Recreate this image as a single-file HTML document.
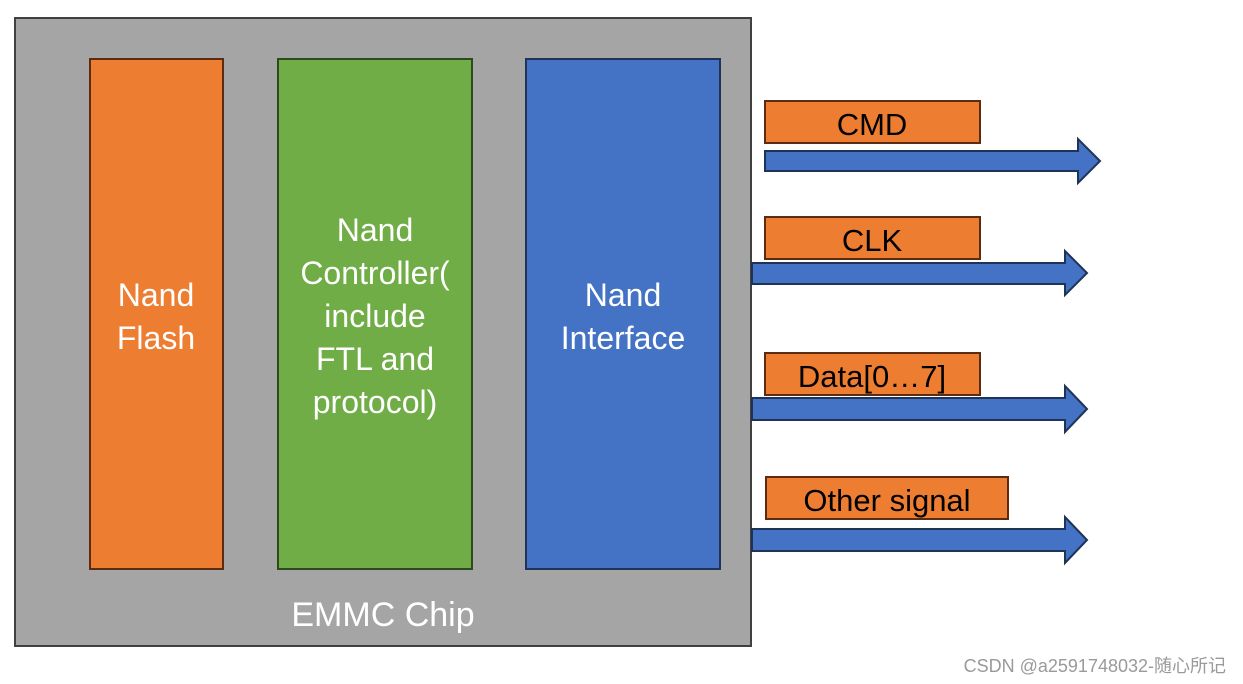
<!DOCTYPE html>
<html><head><meta charset="utf-8"><style>
html,body{margin:0;padding:0;background:#fff;width:1243px;height:684px;overflow:hidden}
svg{display:block}
.w{font-family:"Liberation Sans","Noto Sans CJK SC",sans-serif;font-size:32px;fill:#fff;text-anchor:middle}
.b{font-family:"Liberation Sans","Noto Sans CJK SC",sans-serif;font-size:31px;fill:#000;text-anchor:middle}
</style></head><body>
<svg width="1243" height="684" viewBox="0 0 1243 684">
<rect x="15" y="18" width="736" height="628" fill="#a5a5a5" stroke="#404040" stroke-width="2"/>
<rect x="90" y="59" width="133" height="510" fill="#ed7d31" stroke="#5b2c0f" stroke-width="2"/>
<rect x="278" y="59" width="194" height="510" fill="#70ad47" stroke="#2d4a1c" stroke-width="2"/>
<rect x="526" y="59" width="194" height="510" fill="#4472c4" stroke="#1f3357" stroke-width="2"/>
<text class="w" x="156" y="306">Nand</text>
<text class="w" x="156" y="349">Flash</text>
<text class="w" x="375" y="241">Nand</text>
<text class="w" x="375" y="284">Controller(</text>
<text class="w" x="375" y="327">include</text>
<text class="w" x="375" y="370">FTL and</text>
<text class="w" x="375" y="413">protocol)</text>
<text class="w" x="623" y="306">Nand</text>
<text class="w" x="623" y="349">Interface</text>
<text class="w" x="383" y="626" style="font-size:34px">EMMC Chip</text>

<g fill="#4472c4" stroke="#1f3357" stroke-width="2">
<polygon points="765,151 1078,151 1078,139 1100,161 1078,183 1078,171 765,171"/>
<polygon points="752,263 1065,263 1065,251 1087,273 1065,295 1065,284 752,284"/>
<polygon points="752,398 1065,398 1065,386 1087,409 1065,432 1065,420 752,420"/>
<polygon points="752,529 1065,529 1065,517 1087,540 1065,563 1065,551 752,551"/>
</g>
<g fill="#ed7d31" stroke="#5b2c0f" stroke-width="2">
<rect x="765" y="101" width="215" height="42"/>
<rect x="765" y="217" width="215" height="42"/>
<rect x="765" y="353" width="215" height="42"/>
<rect x="766" y="477" width="242" height="42"/>
</g>
<text class="b" x="872" y="135">CMD</text>
<text class="b" x="872" y="251">CLK</text>
<text class="b" x="872" y="387">Data[0…7]</text>
<text class="b" x="887" y="511">Other signal</text>
<text x="1226" y="672" text-anchor="end" font-family="Liberation Sans,'Noto Sans CJK SC',sans-serif" font-size="18" fill="#9a9a9a">CSDN @a2591748032-随心所记</text>
</svg>
</body></html>
